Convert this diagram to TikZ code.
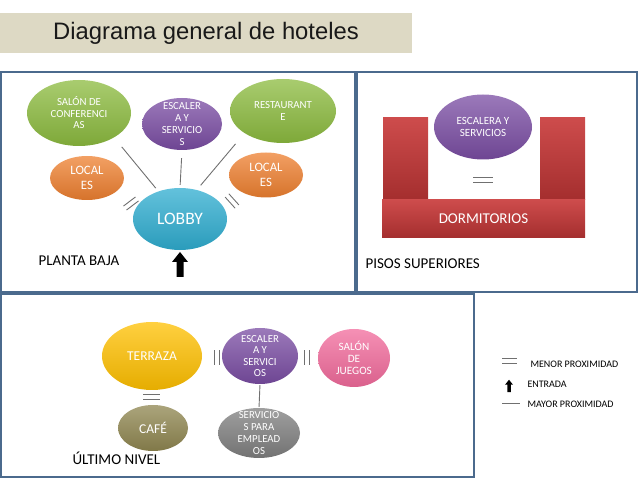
\documentclass[tikz,border=0pt]{standalone}
\usepackage{fontspec}
\setmainfont{Carlito}
\newfontfamily\titfont{Liberation Sans}
\usetikzlibrary{shapes.geometric}

\definecolor{marco}{HTML}{4B6A8D}
\definecolor{beige}{HTML}{DDD9C4}
\definecolor{verde}{HTML}{8CBB3F}
\definecolor{morado}{HTML}{7A4DA3}
\definecolor{naranja}{HTML}{EE8030}
\definecolor{cian}{HTML}{2FADD0}
\definecolor{rojo}{HTML}{C83838}
\definecolor{amarillo}{HTML}{FFC000}
\definecolor{rosa}{HTML}{F26B9C}
\definecolor{oliva}{HTML}{8F8650}
\definecolor{gris}{HTML}{7F7F7F}
\definecolor{linea}{HTML}{707070}

\begin{document}
\begin{tikzpicture}[x=1pt, y=-1pt,
  panel/.style={draw=marco, line width=1.6pt},
  titulo/.style={fill=beige, minimum width=412pt, minimum height=40pt, inner sep=0,
                 font=\titfont\fontsize{23.8}{26}\selectfont, text=black!90},
  bub/.style={ellipse, inner sep=-8pt, align=center, text=white,
              top color=#1!75!white, bottom color=#1!90!black},
  bloque/.style={rectangle, inner sep=0, text=white,
                 top color=rojo!90!white, bottom color=rojo!82!black},
  nivel/.style={anchor=west, font=\fontsize{15}{17}\selectfont},
  ley/.style={anchor=west, font=\fontsize{10}{12}\selectfont},
  link/.style={draw=linea, line width=0.9pt},
  pics/eqsign/.style={code={\draw[link] (-#1,-2.5pt) -- (#1,-2.5pt) (-#1,2.5pt) -- (#1,2.5pt);}},
  pics/entrada/.style={code={\fill[black] (-3.5pt,-12.5pt) -- (3.5pt,-12.5pt) -- (3.5pt,2.5pt)
                       -- (8pt,2.5pt) -- (0pt,12.5pt) -- (-8pt,2.5pt) -- (-3.5pt,2.5pt) -- cycle;}}
]
\useasboundingbox (0,0) rectangle (638,478);

\node[titulo] (tit) at (206,33) {Diagrama general de hoteles};

\draw[panel] (1,72) rectangle (355,292);
\draw[panel] (357,72) rectangle (637,292);
\draw[panel] (1,294) rectangle (474,477);

% planta baja
\node[bub=verde, minimum width=104pt, minimum height=66pt, font=\fontsize{10.8}{11.5}\selectfont] (salon) at (79,113) {SALÓN DE\\CONFERENCI\\AS};
\node[bub=morado, minimum width=80pt, minimum height=52pt, font=\fontsize{10.8}{11.7}\selectfont] (esc1) at (182,124) {ESCALER\\A Y\\SERVICIO\\S};
\node[bub=verde, minimum width=106pt, minimum height=64pt, font=\fontsize{10.8}{12.5}\selectfont] (resto) at (283,111) {RESTAURANT\\E};
\node[bub=naranja, minimum width=74pt, minimum height=44pt, font=\fontsize{12.8}{15}\selectfont] (locL) at (87,178) {LOCAL\\ES};
\node[bub=naranja, minimum width=74pt, minimum height=45pt, font=\fontsize{12.8}{15}\selectfont] (locR) at (266,175) {LOCAL\\ES};
\node[bub=cian, minimum width=94pt, minimum height=62pt, font=\fontsize{17.5}{20}\selectfont] (lobby) at (180,219) {LOBBY};

\draw[link, shorten <=12pt, shorten >=4pt] (salon.-35) -- (lobby.128);
\draw[link, shorten <=8pt, shorten >=3pt] (esc1.south) -- (lobby.north);
\draw[link, shorten <=14pt, shorten >=6pt] (resto.-150) -- (lobby.60);
\pic[rotate=37] at (131,203.5) {eqsign=7.5pt};
\pic[rotate=-48] at (232,201) {eqsign=7.5pt};

\node[nivel] (pb) at (35,261) {PLANTA BAJA};
\pic at (180,264.5) {entrada};

% pisos superiores
\node[bloque, minimum width=45pt, minimum height=82pt] (torreL) at (405.5,159) {};
\node[bloque, minimum width=45pt, minimum height=82pt] (torreR) at (562.5,159) {};
\node[bloque, minimum width=203pt, minimum height=38pt, font=\fontsize{15}{17}\selectfont] (dorm) at (483.5,219) {DORMITORIOS};
\node[bub=morado, minimum width=98pt, minimum height=65pt, font=\fontsize{11}{11.5}\selectfont] (esc2) at (483,127) {ESCALERA Y\\SERVICIOS};
\pic at (483,179.5) {eqsign=10pt};
\node[nivel] (ps) at (362,264) {PISOS SUPERIORES};

% ultimo nivel
\node[bub=amarillo, minimum width=100pt, minimum height=68pt, font=\fontsize{13.5}{15}\selectfont] (terr) at (152,356) {TERRAZA};
\node[bub=morado, minimum width=76pt, minimum height=56pt, font=\fontsize{10.8}{11.4}\selectfont] (esc3) at (260,356) {ESCALER\\A Y\\SERVICI\\OS};
\node[bub=rosa, minimum width=72pt, minimum height=58pt, font=\fontsize{11.2}{11.7}\selectfont] (juegos) at (354,358) {SALÓN\\DE\\JUEGOS};
\node[bub=oliva, minimum width=70pt, minimum height=46pt, font=\fontsize{13.5}{15}\selectfont] (cafe) at (153,428) {CAFÉ};
\node[bub=gris, minimum width=82pt, minimum height=50pt, font=\fontsize{10.8}{11.7}\selectfont] (empl) at (259,433) {SERVICIO\\S PARA\\EMPLEAD\\OS};

\draw[link, shorten <=1pt, shorten >=1pt] (esc3.south) -- (empl.north);
\pic[rotate=90] at (216.5,357.5) {eqsign=7.5pt};
\pic[rotate=90] at (306.5,357.5) {eqsign=7.5pt};
\pic at (151.5,396.5) {eqsign=8.5pt};
\node[nivel] (un) at (69,458) {ÚLTIMO NIVEL};

% leyenda
\pic at (509.5,361) {eqsign=7.5pt};
\node[ley] (menor) at (527,364) {MENOR PROXIMIDAD};
\pic[scale=0.5] at (509,386) {entrada};
\node[ley] (entr) at (524,384) {ENTRADA};
\coordinate (m1) at (502,403);
\coordinate (m2) at (520,403);
\draw[link] (m1) -- (m2);
\node[ley] (mayor) at (524,404) {MAYOR PROXIMIDAD};
\end{tikzpicture}
\end{document}
